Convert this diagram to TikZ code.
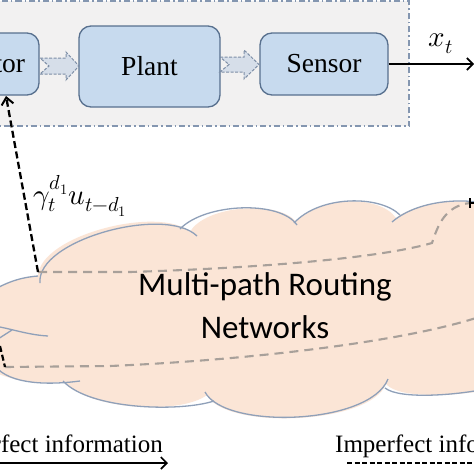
\documentclass[tikz,border=0pt]{standalone}
\usepackage{fontspec}
\usepackage{unicode-math}
\setmainfont{Liberation Serif}
\setmathfont{Latin Modern Math}
\newfontfamily\cloudfont{Carlito}
\usetikzlibrary{arrows.meta}
\definecolor{bgfill}{RGB}{242,241,241}
\definecolor{bgline}{RGB}{132,150,176}
\definecolor{blkfill}{RGB}{199,218,238}
\definecolor{blkline}{RGB}{88,112,142}
\definecolor{harrfill}{RGB}{214,222,233}
\definecolor{harrline}{RGB}{125,142,166}
\definecolor{cloudfill}{RGB}{251,229,214}
\definecolor{cloudline}{RGB}{143,160,185}
\definecolor{pathgray}{RGB}{168,160,154}
\begin{document}
\begin{tikzpicture}[x=1pt,y=-1pt,
  bgbox/.style={fill=bgfill,draw=bgline,line width=1.2pt,dash pattern=on 6pt off 3pt on 1.5pt off 3pt},
  blockbox/.style={fill=blkfill,draw=blkline,line width=1.3pt,rounded corners=12pt,font=\fontsize{27.5}{30}\selectfont,inner sep=0pt},
  hollowarrow/.style={fill=harrfill,draw=harrline,line width=1pt,dash pattern=on 3pt off 1.5pt},
  cloudedge/.style={draw=cloudline,line width=1.3pt},
  netpath/.style={draw=pathgray,line width=2.1pt,dash pattern=on 9pt off 6pt},
  ctrlarrow/.style={draw=black,line width=2.3pt,dash pattern=on 7pt off 3.5pt,-{Straight Barb[length=7pt,width=12pt,line width=2pt]}},
  solidarrow/.style={draw=black,line width=1.8pt,-{Straight Barb[length=6pt,width=12pt,line width=1.6pt]}},
  legendtext/.style={font=\fontsize{25}{28}\selectfont,inner sep=0pt},
  nettext/.style={font=\cloudfont\fontsize{33}{40}\selectfont,inner sep=0pt},
  mathlabel/.style={font=\fontsize{29}{32}\selectfont,inner sep=0pt}]
\useasboundingbox (0,0) rectangle (474,474);
\clip (0,0) rectangle (474,474);
\fill[white] (0,0) rectangle (474,474);
% background frame
\draw[bgbox] (-20,1) rectangle (409,126);
% blocks
\node[blockbox,minimum width=124pt,minimum height=62pt] (act) at (-23,64) {Actuator};
\node[blockbox,minimum width=141pt,minimum height=81pt] (plant) at (149.5,66.5) {Plant};
\node[blockbox,minimum width=128pt,minimum height=62pt] (sensor) at (324,64) {Sensor};
% hollow notched arrows
\draw[hollowarrow] (40,58) -- (66,58) -- (66,52) -- (79,66) -- (66,80) -- (66,74) -- (40,74) -- (49,66) -- cycle;
\draw[hollowarrow] (220,57) -- (244,57) -- (244,50) -- (259,64.5) -- (244,79) -- (244,72) -- (220,72) -- (229,64.5) -- cycle;
% output
\coordinate (xout) at (474,64);
\draw[solidarrow] (sensor.east) -- (xout);
\node[mathlabel] (xlab) at (441,44) {$x_t$};
% cloud
\fill[cloudfill] (-10,292) .. controls (10,280) and (25,277) .. (38,276)
  .. controls (40,235) and (160,205) .. (190,232)
  .. controls (205,205) and (280,200) .. (296,222)
  .. controls (320,195) and (380,195) .. (396,218)
  .. controls (420,200) and (470,198) .. (490,205)
  -- (490,390)
  .. controls (460,395) and (400,400) .. (386,384)
  .. controls (370,425) and (225,430) .. (207,395)
  .. controls (180,415) and (90,410) .. (64,382)
  .. controls (30,385) and (5,378) .. (-10,370) -- cycle;
\draw[cloudedge] (-10,292) .. controls (10,280) and (25,277) .. (38,276);
\draw[cloudedge] (40,283) .. controls (36,240) and (165,205) .. (197,236);
\draw[cloudedge] (180,229) .. controls (205,203) and (280,200) .. (297,225);
\draw[cloudedge] (294,223) .. controls (320,195) and (380,195) .. (400,215);
\draw[cloudedge] (392,222) .. controls (420,198) and (470,198) .. (490,205);
\draw[cloudedge] (0,327) .. controls (15,330) and (30,335) .. (48,336);
\draw[cloudedge] (-2,339) -- (12,330);
\draw[cloudedge] (-5,366) .. controls (10,385) and (50,385) .. (80,381);
\draw[cloudedge] (63,381) .. controls (90,410) and (180,412) .. (214,401);
\draw[cloudedge] (205,392) .. controls (225,430) and (370,425) .. (388,379);
\draw[cloudedge] (385,388) .. controls (400,400) and (460,395) .. (490,388);
% network paths
\coordinate (p1) at (38,272);
\coordinate (p1end) at (470,203);
\coordinate (p2) at (5,367);
\coordinate (p2end) at (476,318);
\draw[netpath] (p1) -- (130,272) .. controls (260,268) and (380,258) .. (432,243) .. controls (438,225) and (445,206) .. (p1end);
\draw[netpath] (p2) -- (110,366) .. controls (250,360) and (400,342) .. (p2end);
\node[nettext] (net1) at (265,287) {Multi-path Routing};
\node[nettext] (net2) at (265,327) {Networks};
% control dashed arrow
\coordinate (actin) at (6,96);
\draw[ctrlarrow] (p1) -- (actin);
\node[mathlabel,anchor=west] (ulab) at (33,196) {$\gamma_t^{d_1}u_{t-d_1}$};
% small black dashed fragments
\coordinate (bl1) at (0,346);
\draw[draw=black,line width=2.2pt,dash pattern=on 6pt off 3pt] (bl1) -- (p2);
\coordinate (tr1) at (476,203);
\draw[draw=black,line width=2pt] (p1end) -- (tr1);
\draw[draw=black,line width=1.4pt] (470,198) -- (470,208);
% legend
\node[legendtext,anchor=base east] (perf) at (163,452) {Perfect information};
\coordinate (la) at (-10,463);
\coordinate (lb) at (168,463);
\draw[solidarrow] (la) -- (lb);
\node[legendtext,anchor=base west] (imperf) at (335,452) {Imperfect information};
\coordinate (lc) at (347,463);
\coordinate (ld) at (480,463);
\draw[draw=black,line width=1.6pt,dash pattern=on 5pt off 2.5pt] (lc) -- (ld);
\end{tikzpicture}
\end{document}
